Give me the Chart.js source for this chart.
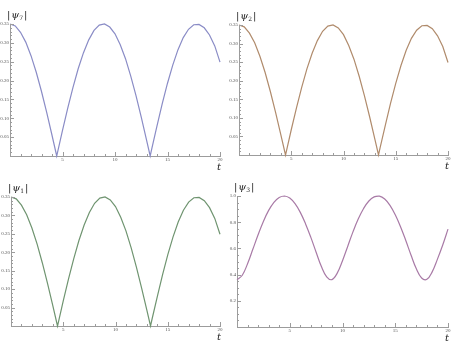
<!DOCTYPE html>
<html>
<head>
<meta charset="utf-8">
<script src="https://cdn.jsdelivr.net/npm/chart.js@4.4.1/dist/chart.umd.min.js"></script>
<style>
  html, body { margin: 0; padding: 0; background: #fff; }
  #wrap { position: relative; width: 474px; height: 347px; overflow: hidden; }
  #wrap canvas { position: absolute; }
</style>
</head>
<body>
<div id="wrap"></div>
<script>
// time samples (cusp samples include the two zero crossings)
const tCusp = [0, 0.5, 1, 1.5, 2, 2.5, 3, 3.5, 4, 4.45, 4.5, 5, 5.5, 6, 6.5, 7, 7.5, 8, 8.5, 9, 9.5,
  10, 10.5, 11, 11.5, 12, 12.5, 13, 13.35, 13.5, 14, 14.5, 15, 15.5, 16, 16.5, 17, 17.5, 18, 18.5, 19, 19.5, 20];
const tSmooth = [0, 0.5, 1, 1.5, 2, 2.5, 3, 3.5, 4, 4.5, 5, 5.5, 6, 6.5, 7, 7.5, 8, 8.5, 9, 9.5,
  10, 10.5, 11, 11.5, 12, 12.5, 13, 13.5, 14, 14.5, 15, 15.5, 16, 16.5, 17, 17.5, 18, 18.5, 19, 19.5, 20];

const psi7 = [0.350, 0.345, 0.328, 0.302, 0.266, 0.222, 0.171, 0.115, 0.055, 0, 0.006, 0.068, 0.127, 0.182,
  0.232, 0.274, 0.308, 0.333, 0.347, 0.350, 0.342, 0.324, 0.295, 0.258, 0.212, 0.160, 0.103, 0.043, 0,
  0.019, 0.080, 0.139, 0.193, 0.241, 0.282, 0.314, 0.336, 0.348, 0.349, 0.340, 0.321, 0.292, 0.249];
const psi2 = [0.350, 0.345, 0.328, 0.302, 0.266, 0.222, 0.171, 0.115, 0.055, 0, 0.006, 0.068, 0.127, 0.182,
  0.232, 0.274, 0.308, 0.333, 0.347, 0.350, 0.342, 0.324, 0.295, 0.258, 0.212, 0.160, 0.103, 0.043, 0,
  0.019, 0.080, 0.139, 0.193, 0.241, 0.282, 0.314, 0.336, 0.348, 0.349, 0.340, 0.321, 0.292, 0.249];
const psi1 = [0.350, 0.345, 0.328, 0.302, 0.266, 0.222, 0.171, 0.115, 0.055, 0, 0.006, 0.068, 0.127, 0.182,
  0.232, 0.274, 0.308, 0.333, 0.347, 0.350, 0.342, 0.324, 0.295, 0.258, 0.212, 0.160, 0.103, 0.043, 0,
  0.019, 0.080, 0.139, 0.193, 0.241, 0.282, 0.314, 0.336, 0.348, 0.349, 0.340, 0.321, 0.292, 0.249];
const psi3 = [0.360, 0.395, 0.483, 0.593, 0.704, 0.806, 0.890, 0.952, 0.989, 1.000, 0.984, 0.941, 0.875,
  0.787, 0.684, 0.571, 0.461, 0.383, 0.362, 0.411, 0.506, 0.617, 0.728, 0.826, 0.905, 0.962, 0.993,
  0.999, 0.977, 0.929, 0.857, 0.766, 0.660, 0.548, 0.444, 0.374, 0.364, 0.421, 0.518, 0.626, 0.747];

const xTicks = [5, 10, 15, 20];
const yTicksSmall = [0.05, 0.10, 0.15, 0.20, 0.25, 0.30, 0.35];
const yTicksBig = [0.2, 0.4, 0.6, 0.8, 1.0];

const panels = [
  { sub: '7', t: tCusp, y: psi7, color: '#8a8cc6', yMax: 0.35, yStep: 0.05, yMinor: 0.01, dec: 2, tension: 0,
    left: 0, top: 0, w: 237, h: 173, yw: 10, xh: 17, padTop: 24, padRight: 17 },
  { sub: '2', t: tCusp, y: psi2, color: '#b08b6c', yMax: 0.35, yStep: 0.05, yMinor: 0.01, dec: 2, tension: 0,
    left: 229, top: 0, w: 245, h: 173, yw: 10, xh: 18, padTop: 25, padRight: 26 },
  { sub: '1', t: tCusp, y: psi1, color: '#6f9470', yMax: 0.35, yStep: 0.05, yMinor: 0.01, dec: 2, tension: 0,
    left: 0, top: 173, w: 237, h: 174, yw: 11, xh: 21, padTop: 24, padRight: 17 },
  { sub: '3', t: tSmooth, y: psi3, color: '#a87aa6', yMax: 1.0, yStep: 0.2, yMinor: 0.05, dec: 1, tension: 0.4,
    left: 229, top: 173, w: 245, h: 174, yw: 8, xh: 20, padTop: 23, padRight: 26 }
];

// inward tick marks + axis labels
const decor = {
  id: 'decor',
  afterDatasetsDraw(chart, args, opts) {
    const { ctx, chartArea: a, scales: { x, y } } = chart;
    ctx.save();
    ctx.strokeStyle = '#9c9c9c';
    ctx.lineWidth = 1;
    ctx.beginPath();
    for (let t = 1; t <= 20; t++) {
      const px = Math.round(x.getPixelForValue(t)) + 0.5;
      const len = t % 5 === 0 ? 4 : 2;
      ctx.moveTo(px, a.bottom);
      ctx.lineTo(px, a.bottom - len);
    }
    const n = Math.round(opts.yMax / opts.yMinor);
    const per = Math.round(opts.yStep / opts.yMinor);
    for (let i = 1; i <= n; i++) {
      const py = Math.round(y.getPixelForValue(i * opts.yMinor)) + 0.5;
      const len = i % per === 0 ? 4 : 2;
      ctx.moveTo(a.left, py);
      ctx.lineTo(a.left + len, py);
    }
    ctx.stroke();

    // |psi_n| label
    ctx.fillStyle = '#222';
    ctx.textBaseline = 'alphabetic';
    let cx = a.left - 3;
    const by = a.top - 6;
    ctx.font = '10px "DejaVu Serif"';
    ctx.fillText('|', cx, by); cx += ctx.measureText('|').width + 1;
    ctx.font = 'italic 10px "DejaVu Serif"';
    ctx.fillText('\u03C8', cx, by); cx += ctx.measureText('\u03C8').width;
    ctx.font = '6px "DejaVu Serif"';
    ctx.fillText(opts.sub, cx, by + 2); cx += ctx.measureText(opts.sub).width + 1;
    ctx.font = '10px "DejaVu Serif"';
    ctx.fillText('|', cx, by);

    // t label
    ctx.font = 'italic 10px "DejaVu Serif"';
    ctx.textAlign = 'center';
    ctx.fillText('t', a.right - 1, a.bottom + 14);
    ctx.restore();
  }
};

const wrap = document.getElementById('wrap');
panels.forEach(p => {
  const cv = document.createElement('canvas');
  cv.width = p.w; cv.height = p.h;
  cv.style.left = p.left + 'px'; cv.style.top = p.top + 'px';
  wrap.appendChild(cv);
  const yLabels = p.yMax === 1.0 ? yTicksBig : yTicksSmall;
  new Chart(cv, {
    type: 'line',
    data: {
      datasets: [{
        data: p.t.map((t, i) => ({ x: t, y: p.y[i] })),
        borderColor: p.color,
        borderWidth: 1.2,
        pointRadius: 0,
        tension: p.tension,
        fill: false,
        clip: 3
      }]
    },
    options: {
      responsive: false,
      animation: false,
      devicePixelRatio: 1,
      layout: { padding: { left: 0, top: p.padTop, right: p.padRight, bottom: 0 } },
      plugins: { legend: { display: false }, tooltip: { enabled: false }, decor: p },
      scales: {
        x: {
          type: 'linear', min: 0, max: 20,
          grid: { display: false, drawTicks: false, tickLength: 0 },
          border: { display: true, color: '#9c9c9c', width: 1 },
          afterBuildTicks: s => { s.ticks = xTicks.map(v => ({ value: v })); },
          afterFit: s => { s.height = p.xh; },
          ticks: { font: { size: 5, family: 'Liberation Sans Narrow' }, color: '#555', padding: 1, maxRotation: 0, autoSkip: false }
        },
        y: {
          type: 'linear', min: 0, max: p.yMax,
          grid: { display: false, drawTicks: false, tickLength: 0 },
          border: { display: true, color: '#9c9c9c', width: 1 },
          afterBuildTicks: s => { s.ticks = yLabels.map(v => ({ value: v })); },
          afterFit: s => { s.width = p.yw; },
          ticks: {
            font: { size: 5, family: 'Liberation Sans Narrow' }, color: '#555', padding: 1, autoSkip: false,
            callback: v => Number(v).toFixed(p.dec)
          }
        }
      }
    },
    plugins: [decor]
  });
});
</script>
</body>
</html>
